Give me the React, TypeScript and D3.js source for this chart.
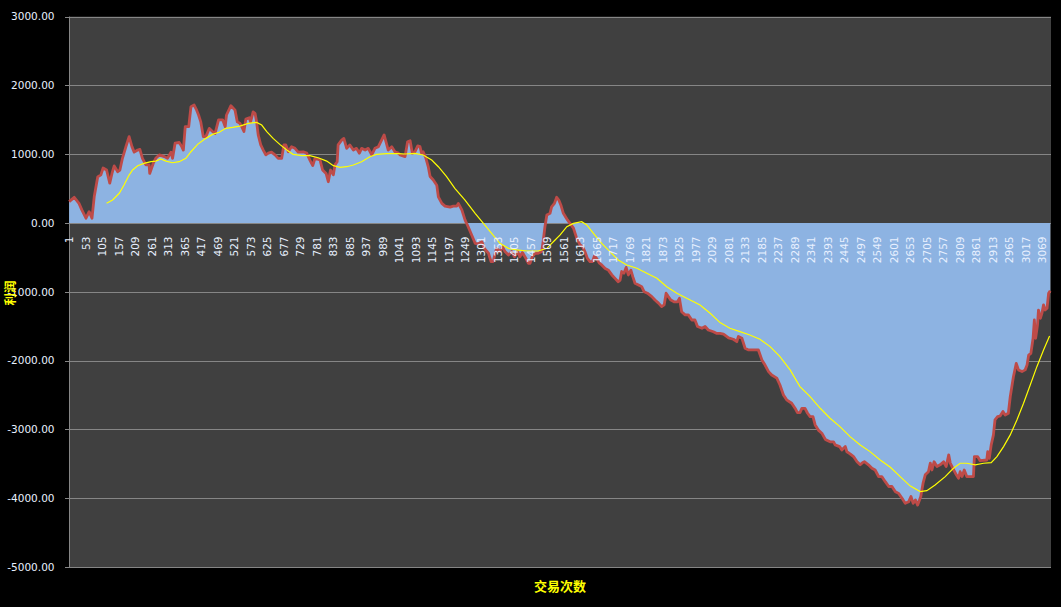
import React from 'react';
import * as d3 from 'd3';

const W = 1061;
const H = 607;
const N_TRADES = 3096;

const yTicks = [3000, 2000, 1000, 0, -1000, -2000, -3000, -4000, -5000];

const xTickLabels = [
  1, 53, 105, 157, 209, 261, 313, 365, 417, 469, 521, 573, 625, 677, 729, 781, 833, 885, 937, 989,
  1041, 1093, 1145, 1197, 1249, 1301, 1353, 1405, 1457, 1509, 1561, 1613, 1665, 1717, 1769, 1821,
  1873, 1925, 1977, 2029, 2081, 2133, 2185, 2237, 2289, 2341, 2393, 2445, 2497, 2549, 2601, 2653,
  2705, 2757, 2809, 2861, 2913, 2965, 3017, 3069,
];

// [trade number, cumulative profit]
const profitPoints: [number, number][] = [
  [1, 310], [17, 373], [32, 286], [41, 190], [54, 70], [64, 165], [73, 70], [80, 380], [91, 670], [101, 700],
  [108, 800], [119, 770], [129, 580], [136, 720], [143, 830], [154, 745], [161, 770], [169, 940], [180, 1110], [190, 1255],
  [199, 1110], [206, 1030], [217, 1060], [224, 1070], [232, 940], [243, 845], [253, 845], [255, 720], [266, 865], [274, 940],
  [285, 990], [301, 965], [311, 940], [322, 1030], [327, 940], [335, 1160], [348, 1170], [356, 1110], [361, 1060], [367, 1400],
  [378, 1400], [385, 1690], [395, 1715], [403, 1640], [409, 1570], [416, 1470], [424, 1255], [432, 1255], [443, 1375], [453, 1330],
  [461, 1300], [472, 1500], [485, 1500], [493, 1400], [497, 1570], [511, 1705], [524, 1640], [531, 1470], [539, 1450], [545, 1400],
  [552, 1330], [558, 1510], [569, 1530], [573, 1470], [581, 1615], [587, 1595], [592, 1470], [597, 1280], [605, 1135], [613, 1060],
  [621, 990], [629, 1015], [639, 1030], [650, 990], [660, 940], [671, 940], [678, 1135], [684, 1135], [692, 1035], [702, 1110],
  [713, 1085], [723, 1030], [739, 1035], [750, 1015], [760, 915], [769, 835], [776, 940], [792, 915], [800, 770], [811, 720],
  [818, 600], [825, 770], [834, 700], [839, 845], [846, 890], [849, 1135], [860, 1205], [867, 1230], [876, 1085], [886, 1135],
  [897, 1060], [907, 1085], [916, 1015], [923, 1085], [934, 1060], [944, 1085], [955, 990], [965, 1085], [976, 1110], [986, 1205],
  [994, 1280], [1000, 1180], [1007, 1060], [1018, 1110], [1028, 1035], [1039, 1015], [1044, 990], [1060, 965], [1068, 1180], [1076, 1195],
  [1083, 1015], [1091, 1035], [1100, 1120], [1107, 1110], [1112, 1015], [1117, 1035], [1125, 955], [1133, 820], [1139, 675], [1149, 625],
  [1160, 550], [1165, 380], [1176, 285], [1186, 245], [1202, 230], [1212, 245], [1223, 245], [1228, 285], [1239, 190], [1249, 45],
  [1259, -55], [1270, -175], [1281, -295], [1291, -305], [1302, -270], [1310, -370], [1323, -440], [1331, -560], [1338, -560], [1344, -440],
  [1349, -370], [1359, -415], [1367, -345], [1375, -415], [1386, -465], [1396, -415], [1405, -490], [1415, -415], [1422, -490], [1430, -430],
  [1438, -490], [1449, -585], [1454, -585], [1461, -490], [1470, -440], [1480, -440], [1491, -415], [1496, -245], [1501, -55], [1507, 115],
  [1517, 140], [1522, 235], [1531, 285], [1538, 375], [1545, 330], [1552, 250], [1559, 140], [1572, 45], [1580, -5], [1591, -75],
  [1601, -220], [1612, -320], [1620, -345], [1627, -415], [1635, -515], [1643, -560], [1651, -560], [1657, -480], [1664, -515], [1673, -585],
  [1680, -610], [1691, -660], [1701, -685], [1712, -755], [1722, -805], [1732, -855], [1738, -830], [1743, -705], [1750, -730], [1757, -645],
  [1764, -755], [1772, -685], [1778, -780], [1785, -875], [1796, -900], [1806, -925], [1814, -1000], [1824, -1020], [1838, -1070], [1848, -1120],
  [1859, -1165], [1869, -1215], [1877, -1190], [1883, -1020], [1890, -1070], [1898, -1120], [1908, -1145], [1919, -1145], [1925, -1095], [1932, -1290],
  [1943, -1335], [1953, -1335], [1964, -1410], [1974, -1410], [1982, -1505], [1996, -1530], [2006, -1505], [2016, -1555], [2032, -1580], [2043, -1605],
  [2053, -1605], [2064, -1615], [2080, -1670], [2095, -1690], [2106, -1725], [2111, -1650], [2122, -1675], [2132, -1820], [2143, -1845], [2159, -1845],
  [2174, -1845], [2185, -1990], [2195, -2065], [2206, -2160], [2216, -2210], [2232, -2255], [2242, -2355], [2253, -2500], [2263, -2570], [2279, -2620],
  [2290, -2695], [2297, -2755], [2305, -2755], [2311, -2695], [2321, -2695], [2329, -2765], [2337, -2815], [2346, -2815], [2353, -2935], [2363, -3010],
  [2374, -3055], [2385, -3145], [2400, -3180], [2411, -3180], [2416, -3225], [2430, -3250], [2437, -3300], [2448, -3250], [2453, -3325], [2463, -3355],
  [2474, -3395], [2485, -3470], [2495, -3515], [2503, -3480], [2508, -3470], [2521, -3515], [2532, -3565], [2542, -3590], [2553, -3685], [2563, -3685],
  [2574, -3760], [2585, -3830], [2595, -3830], [2606, -3905], [2616, -3930], [2627, -4000], [2637, -4075], [2648, -4050], [2655, -3975], [2662, -4075],
  [2669, -4025], [2676, -4100], [2682, -4025], [2686, -3975], [2693, -3785], [2700, -3660], [2710, -3615], [2716, -3490], [2721, -3590], [2728, -3470],
  [2737, -3540], [2747, -3515], [2758, -3470], [2766, -3540], [2774, -3370], [2779, -3490], [2787, -3565], [2798, -3660], [2805, -3710], [2810, -3615],
  [2816, -3685], [2823, -3590], [2831, -3685], [2852, -3685], [2855, -3395], [2865, -3395], [2873, -3455], [2894, -3445], [2897, -3325], [2902, -3420],
  [2908, -3225], [2915, -3080], [2920, -2860], [2928, -2815], [2936, -2805], [2945, -2740], [2952, -2790], [2962, -2765], [2968, -2525], [2973, -2380],
  [2978, -2235], [2987, -2040], [2994, -2135], [3005, -2160], [3015, -2135], [3021, -2065], [3026, -1920], [3033, -1895], [3040, -1675], [3044, -1410],
  [3048, -1675], [3054, -1480], [3057, -1265], [3063, -1385], [3068, -1310], [3073, -1190], [3078, -1265], [3084, -1240], [3089, -1020], [3094, -985],
];

// [trade number, moving average]
const maPoints: [number, number][] = [
  [119, 286], [138, 334], [159, 432], [174, 552], [190, 697], [201, 770], [217, 833], [237, 867], [259, 891], [274, 900],
  [290, 930], [306, 900], [327, 876], [348, 891], [369, 940], [385, 1036], [406, 1143], [432, 1230], [453, 1288], [474, 1318],
  [495, 1376], [516, 1390], [539, 1409], [566, 1448], [592, 1463], [608, 1424], [624, 1327], [644, 1230], [665, 1143], [687, 1061],
  [707, 998], [734, 978], [760, 978], [786, 949], [813, 900], [834, 833], [855, 809], [876, 818], [897, 843], [923, 891],
  [949, 964], [970, 998], [1002, 1007], [1039, 1007], [1060, 1003], [1091, 1013], [1117, 988], [1144, 915], [1165, 818], [1191, 673],
  [1217, 504], [1249, 334], [1281, 141], [1307, -5], [1333, -150], [1359, -295], [1386, -368], [1412, -392], [1444, -407], [1480, -407],
  [1507, -368], [1533, -247], [1549, -174], [1570, -53], [1591, -5], [1617, 19], [1633, -29], [1654, -150], [1680, -295], [1706, -417],
  [1732, -538], [1759, -610], [1791, -658], [1822, -731], [1854, -804], [1885, -926], [1917, -1022], [1948, -1095], [1990, -1191], [2022, -1312],
  [2053, -1448], [2084, -1530], [2116, -1579], [2147, -1627], [2179, -1690], [2211, -1797], [2242, -1942], [2274, -2136], [2305, -2378], [2337, -2523],
  [2369, -2693], [2400, -2838], [2431, -2959], [2463, -3105], [2495, -3226], [2526, -3323], [2558, -3444], [2590, -3550], [2621, -3686], [2652, -3821],
  [2684, -3904], [2705, -3890], [2731, -3807], [2763, -3686], [2789, -3565], [2810, -3492], [2831, -3492], [2858, -3516], [2884, -3492], [2908, -3483],
  [2926, -3396], [2947, -3250], [2968, -3080], [2989, -2862], [3010, -2620], [3031, -2354], [3052, -2088], [3073, -1845], [3092, -1642],
];

const Y_TITLE = '利润';
const X_TITLE = '交易次数';

export default function App() {
  const left = 69;
  const right = 1051;
  const top = 16.6;
  const bottom = 567;

  const x = d3.scaleLinear().domain([0.5, N_TRADES + 0.5]).range([left, right]);
  const y = d3.scaleLinear().domain([-5000, 3000]).range([bottom, top]);

  const area = d3
    .area<[number, number]>()
    .x((d) => x(d[0]))
    .y0(y(0))
    .y1((d) => y(d[1]));
  const line = d3
    .line<[number, number]>()
    .x((d) => x(d[0]))
    .y((d) => y(d[1]));

  const crisp = (v: number) => Math.round(v) + 0.5;
  const tickFont = "'DejaVu Sans', Verdana, sans-serif";
  const labelColor = '#E8F0FF';

  return (
    <div style={{ position: 'fixed', left: 0, top: 0, width: W, height: H, background: '#000' }}>
      <svg width={W} height={H} style={{ display: 'block' }}>
        <rect x={0} y={0} width={W} height={H} fill="#000" />
        <rect x={left} y={top} width={right - left} height={bottom - top} fill="#404040" />

        {yTicks.map((t) => (
          <line
            key={'g' + t}
            x1={left - 4}
            x2={right}
            y1={crisp(y(t))}
            y2={crisp(y(t))}
            stroke="#868686"
            strokeWidth={1}
          />
        ))}
        <line x1={crisp(left)} x2={crisp(left)} y1={top} y2={bottom} stroke="#868686" strokeWidth={1} />

        <path d={area(profitPoints) || ''} fill="#8DB3E2" />
        <path
          d={line(profitPoints) || ''}
          fill="none"
          stroke="#BE4B48"
          strokeWidth={2.8}
          strokeLinejoin="round"
        />
        <path d={line(maPoints) || ''} fill="none" stroke="#FFFF00" strokeWidth={1.2} />

        {yTicks.map((t) => (
          <text
            key={'yl' + t}
            x={54.5}
            y={y(t) + 3.8}
            textAnchor="end"
            fontFamily={tickFont}
            fontSize={10.5}
            fill={labelColor}
          >
            {t.toFixed(2)}
          </text>
        ))}

        {xTickLabels.map((c) => {
          const cx = x(c) + 4;
          const cy = 236.5;
          return (
            <text
              key={'xl' + c}
              transform={`translate(${cx},${cy}) rotate(-90)`}
              textAnchor="end"
              fontFamily={tickFont}
              fontSize={10.5}
              fill={labelColor}
            >
              {c}
            </text>
          );
        })}

        <text
          transform={`translate(14.5,293) rotate(-90)`}
          textAnchor="middle"
          fontFamily="'Noto Sans CJK SC', sans-serif"
          fontWeight="bold"
          fontSize={12.5}
          fill="#FFFF00"
        >
          {Y_TITLE}
        </text>
        <text
          x={560}
          y={591}
          textAnchor="middle"
          fontFamily="'Noto Sans CJK SC', sans-serif"
          fontWeight="bold"
          fontSize={13}
          fill="#FFFF00"
        >
          {X_TITLE}
        </text>
      </svg>
    </div>
  );
}
